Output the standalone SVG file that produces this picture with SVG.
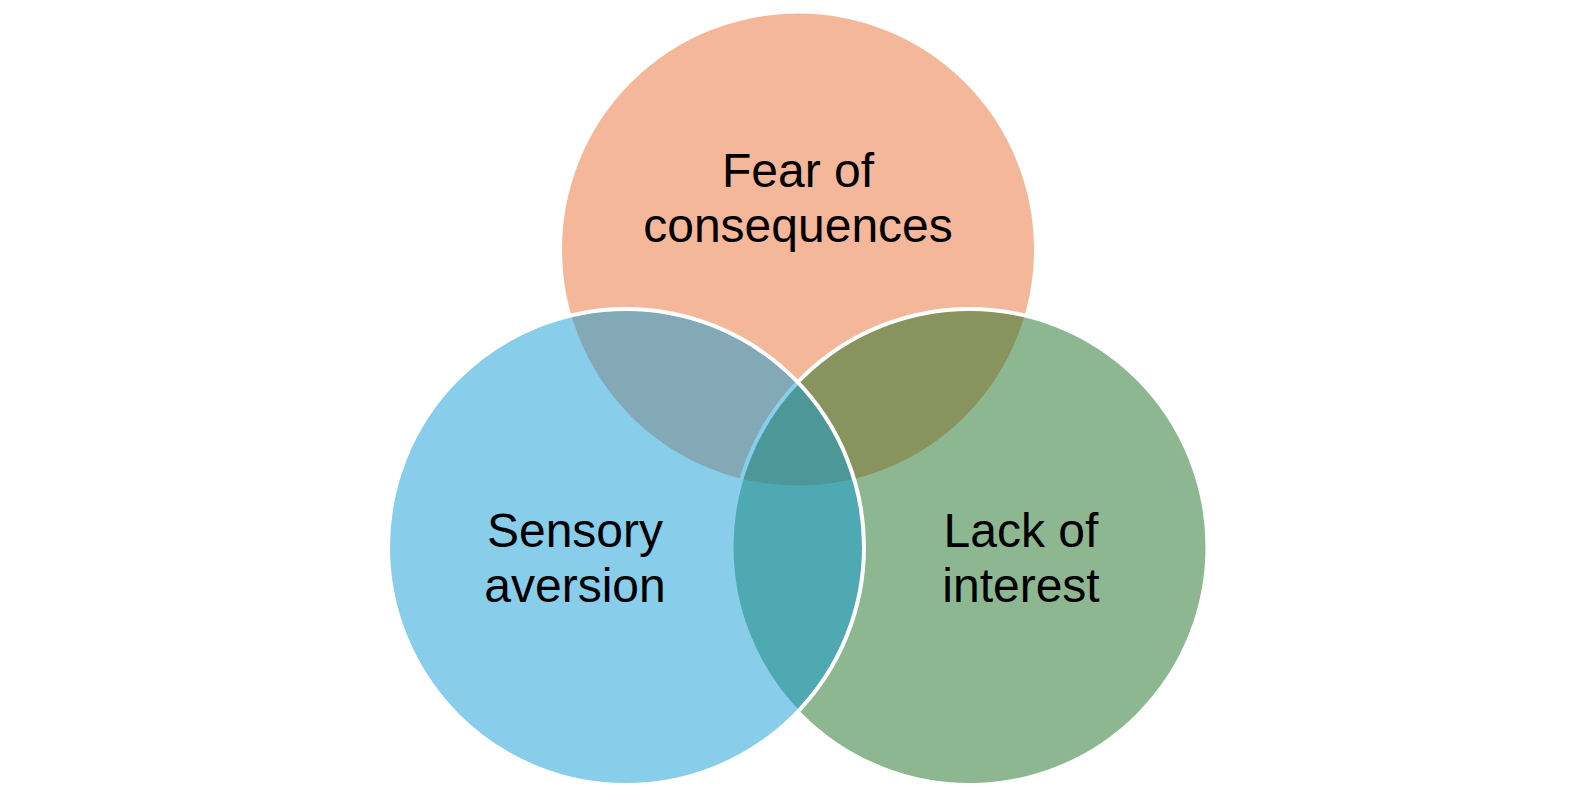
<svg xmlns="http://www.w3.org/2000/svg" width="1595" height="795" viewBox="0 0 1595 795">
<style>
.c{fill-opacity:0.5;stroke:#FFFFFF;stroke-width:4}
.t{font-family:"Liberation Sans",Arial,sans-serif;font-size:48px;fill:#000000;text-anchor:middle}
</style>
<rect width="1595" height="795" fill="#FFFFFF"/>
<g id="fear">
<circle class="c" cx="798" cy="249.5" r="238" fill="#E96F33"/>
</g>
<g id="lack">
<circle class="c" cx="969.5" cy="547" r="238" fill="#1B6F23"/>
</g>
<g id="sensory">
<circle class="c" cx="626" cy="547" r="238" fill="#119BD3"/>
</g>
<g id="connectors"></g>
<g id="labels">
<text class="t" x="798" y="187">Fear of</text>
<text class="t" x="798" y="242">consequences</text>
<text class="t" x="575" y="547">Sensory</text>
<text class="t" x="575" y="602">aversion</text>
<text class="t" x="1021" y="547">Lack of</text>
<text class="t" x="1021" y="602">interest</text>
</g>
</svg>
